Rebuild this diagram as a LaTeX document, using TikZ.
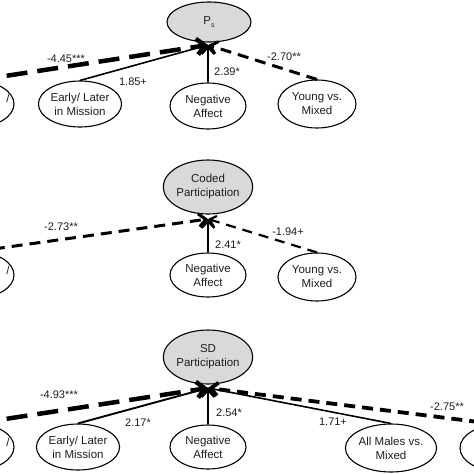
\documentclass[tikz,border=0pt]{standalone}
\usepackage{fontspec}
\setmainfont{Liberation Sans}
\usetikzlibrary{shapes.geometric,arrows.meta}
\definecolor{fillgray}{HTML}{D9D9D9}
\definecolor{txt}{HTML}{1E1E1E}
\tikzset{
  var/.style={ellipse, draw=black, line width=1.1pt, fill=white, minimum width=76pt, minimum height=46pt,
    inner sep=0pt, align=center, font=\fontsize{11.5}{14}\selectfont, text=txt},
  outc/.style={var, fill=fillgray, minimum width=80pt, minimum height=54pt},
  lbl/.style={font=\fontsize{11}{12}\selectfont, text=txt, inner sep=0pt},
  dashthick/.style={line width=4.5pt, dash pattern=on 21pt off 10pt, -{Straight Barb[length=8pt,width=16pt]}},
  dashmid/.style={line width=3pt, dash pattern=on 11pt off 7pt, -{Straight Barb[length=7pt,width=13pt]}},
  dashthin/.style={line width=2.2pt, dash pattern=on 10pt off 7pt, -{Straight Barb[length=6pt,width=11pt]}},
  solidmid/.style={line width=2.6pt, -{Straight Barb[length=7pt,width=13pt]}},
  solidthin/.style={line width=1.6pt, -{Straight Barb[length=6pt,width=11pt]}},
}
\begin{document}
\begin{tikzpicture}[x=1pt,y=-1pt]
\clip (0,0) rectangle (474,474);
\fill[white] (0,0) rectangle (474,474);

% ---------- top panel ----------
\node[outc, minimum width=84pt, minimum height=40pt] (ps) at (209,22) {P\raisebox{-0.45ex}{\fontsize{7}{8}\selectfont s}};
\coordinate (t1) at (208,45);
\node[var] (l1) at (-24,104) {};
\node[lbl, font=\fontsize{11.5}{13}\selectfont] (l1t) at (8,98) {/};
\node[var] (e1) at (80,104) {Early/ Later\\in Mission};
\node[var, minimum height=46pt] (n1) at (208,106) {Negative\\Affect};
\node[var, minimum width=78pt, minimum height=48pt] (y1) at (317,104) {Young vs.\\Mixed};

\draw[dashthick] (l1.north) -- (t1);
\draw[solidthin] (e1.north) -- (t1);
\draw[solidmid] (n1.north) -- (t1);
\draw[dashmid] (y1.north) -- (t1);

\node[lbl] (a1) at (66,59) {-4.45***};
\node[lbl] (b1) at (133,82) {1.85+};
\node[lbl] (c1) at (227,72) {2.39*};
\node[lbl] (d1) at (284,57) {-2.70**};

% ---------- middle panel ----------
\node[outc] (cp) at (208,187) {Coded\\Participation};
\coordinate (t2) at (208,219);
\node[var] (l2) at (-24,275) {};
\node[lbl, font=\fontsize{11.5}{13}\selectfont] (l2t) at (8,270) {/};
\node[var, minimum height=44pt] (n2) at (208,275) {Negative\\Affect};
\node[var, minimum width=78pt, minimum height=48pt] (y2) at (317,277) {Young vs.\\Mixed};

\draw[dashmid] (l2.north) -- (t2);
\draw[solidmid] (n2.north) -- (t2);
\draw[dashthin] (y2.north) -- (t2);

\node[lbl] (a2) at (61,227) {-2.73**};
\node[lbl] (c2) at (228,245) {2.41*};
\node[lbl] (d2) at (288,232) {-1.94+};

% ---------- bottom panel ----------
\node[outc] (sd) at (208,357) {SD\\Participation};
\coordinate (t3) at (208,388);
\node[var] (l3) at (-24,447) {};
\node[lbl, font=\fontsize{11.5}{13}\selectfont] (l3t) at (8,442) {/};
\node[var] (e3) at (78,447) {Early/ Later\\in Mission};
\node[var, minimum height=44pt] (n3) at (208,447) {Negative\\Affect};
\node[var, minimum width=74pt, minimum height=48pt] (m3) at (391,448) {All Males vs.\\Mixed};
\node[var] (r3) at (498,448) {};

\draw[dashthick] (l3.north) -- (t3);
\draw[solidthin, line width=1.9pt] (e3.north) -- (t3);
\draw[solidmid] (n3.north) -- (t3);
\draw[solidthin] (m3.north) -- (t3);
\draw[dashmid, line width=3.8pt] (r3.north) -- (t3);

\node[lbl] (a3) at (59,395) {-4.93***};
\node[lbl] (b3) at (138,423) {2.17*};
\node[lbl] (c3) at (229,413) {2.54*};
\node[lbl] (f3) at (333,422) {1.71+};
\node[lbl] (d3) at (447,407) {-2.75**};
\end{tikzpicture}
\end{document}
